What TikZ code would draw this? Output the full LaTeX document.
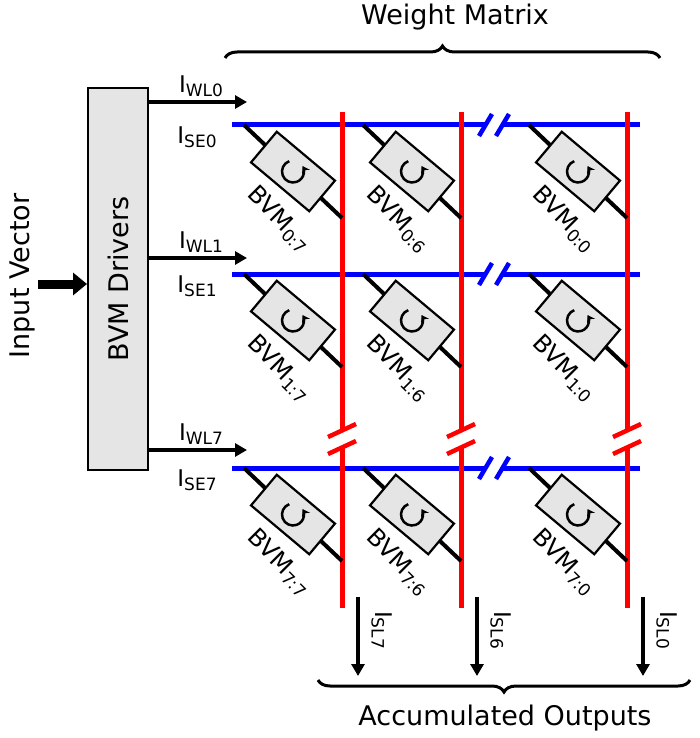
\documentclass[tikz,border=0pt]{standalone}
\usepackage{fontspec}
\setmainfont{DejaVu Sans}
\usetikzlibrary{decorations.pathreplacing,arrows.meta,calc}
\newcommand\mysub[1]{\raisebox{-0.35ex}{\fontsize{17}{18}\selectfont #1}}
\begin{document}
\begin{tikzpicture}[x=1pt,y=-1pt,
  bl/.style={blue,line width=5pt},
  rd/.style={red,line width=5pt},
  cell/.style={draw,line width=2.2pt,fill=gray!20,minimum width=76pt,minimum height=40pt,rotate=-40},
  lbl/.style={font=\fontsize{24}{25}\selectfont,rotate=-45},
  tx/.style={font=\fontsize{23}{24}\selectfont},
  big/.style={font=\fontsize{27}{28}\selectfont},
  arr/.style={line width=3.5pt,-{Triangle[length=12pt,width=13pt]}}]
\useasboundingbox (0,0) rectangle (700,738);
\node[draw,fill=gray!20,line width=2pt,minimum width=60pt,minimum height=382pt] (drv) at (118,279) {};
\node[rotate=90,big] (drvt) at (drv) {BVM Drivers};
\node[rotate=90,big] (iv) at (22,276) {Input Vector};
\coordinate (ivs) at (38,284);
\draw[line width=9pt,-{Triangle[length=14pt,width=22pt]}] (ivs) -- (drv.west|-ivs);
% rows
\foreach \r/\y/\wy/\n in {0/125/102/0,1/274/258/1,7/468/450/7}{
  \coordinate (wa\r) at (148,\wy); \coordinate (wb\r) at (247,\wy);
  \draw[arr] (wa\r) -- (wb\r);
  \node[tx] (wl\r) at (201,\wy-16) {I\mysub{WL\n}};
  \node[tx] (se\r) at (197,\y+12) {I\mysub{SE\n}};
  \coordinate (bs\r) at (232,\y); \coordinate (bg1\r) at (485,\y); \coordinate (bg2\r) at (503,\y); \coordinate (be\r) at (640,\y);
  \draw[bl] (bs\r) -- (bg1\r); \draw[bl] (bg2\r) -- (be\r);
  \draw[blue,line width=4.5pt] (479,\y+11) -- (492,\y-11) (496,\y+11) -- (509,\y-11);
}
% columns
\foreach \c/\x/\n in {7/342/7,6/461/6,0/627/0}{
  \coordinate (rt\c) at (\x,112); \coordinate (rg1\c) at (\x,430); \coordinate (rg2\c) at (\x,446); \coordinate (rb\c) at (\x,608);
  \draw[rd] (rt\c) -- (rg1\c); \draw[rd] (rg2\c) -- (rb\c);
  \draw[red,line width=4.5pt] (\x-14,437) -- (\x+14,424) (\x-14,454) -- (\x+14,441);
  \coordinate (sa\c) at (\x+16,597); \coordinate (sb\c) at (\x+16,676);
  \draw[arr] (sa\c) -- (sb\c);
  \node[rotate=-90,tx] (sl\c) at (\x+40,630) {I\mysub{SL\n}};
}
% cells
\foreach \r/\y in {0/125,1/274,7/468}{
 \foreach \c/\x in {7/342,6/461,0/627}{
  \coordinate (ca\r\c) at (\x-98,\y); \coordinate (cb\r\c) at (\x,\y+93);
  \draw[line width=4pt] (ca\r\c) -- (cb\r\c);
  \node[cell] (cl\r\c) at ($(ca\r\c)!0.5!(cb\r\c)$) {};
  \draw[line width=2.5pt,-{Stealth[length=7pt,width=9pt]}] ($(cl\r\c)+(250:11)$) arc[start angle=250,end angle=-30,radius=11];
  \node[lbl] (lb\r\c) at ($(cl\r\c)+(-14,48)$) {BVM\mysub{\r:\c}};
 }}
% braces
\draw[line width=3pt,decorate,decoration={brace,amplitude=12pt}] (225,58) -- (660,58) coordinate[pos=0.5] (bt);
\node[big] (wm) at (455,17) {Weight Matrix};
\draw[line width=3pt,decorate,decoration={brace,mirror,amplitude=12pt}] (318,680) -- (690,680) coordinate[pos=0.5] (bb);
\node[big] (ao) at (505,718) {Accumulated Outputs};
\end{tikzpicture}
\end{document}
